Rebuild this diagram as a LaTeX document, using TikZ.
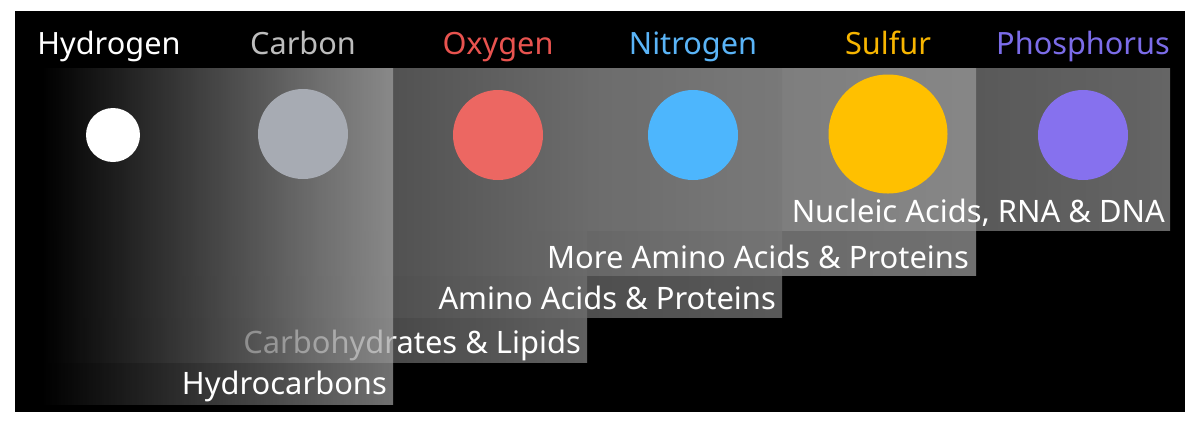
\documentclass[tikz,border=0pt]{standalone}
\usepackage{fontspec}
\setmainfont{Noto Sans}
\usepackage{tikz}
\usetikzlibrary{positioning}

\definecolor{hcol}{HTML}{FFFFFF}
\definecolor{ccol}{HTML}{A7ABB3}
\definecolor{clab}{HTML}{BDBDBD}
\definecolor{ocol}{HTML}{EC6762}
\definecolor{olab}{HTML}{E8534F}
\definecolor{ncol}{HTML}{4DB6FD}
\definecolor{nlab}{HTML}{5AB4F7}
\definecolor{scol}{HTML}{FFC000}
\definecolor{slab}{HTML}{F7B500}
\definecolor{pcol}{HTML}{8671EE}
\definecolor{plab}{HTML}{7B6CE8}

\begin{document}
\begin{tikzpicture}[
    x=1bp, y=-1bp,
    atom/.style={circle, inner sep=0pt},
    elem/.style={anchor=base, inner sep=0pt, font=\fontsize{30.8}{35}\selectfont},
    band/.style={left color=black, fill opacity=0.75},
    bandtext/.style={anchor=base east, inner sep=0pt, text=white, font=\fontsize{31}{36}\selectfont}
  ]
    \useasboundingbox (0,0) rectangle (1200,425);
    \fill[black] (15,11) rectangle (1185,412);

    % bands, back to front
    \shade[band, right color=black!47, middle color=black!64.5] (40,68) rectangle (1170,230);
    \shade[band, right color=black!41, middle color=black!48] (40,68) rectangle (976,275);
    \shade[band, right color=black!53, middle color=black!64.4] (40,68) rectangle (782,317);
    \shade[band, right color=black!58, middle color=black!72, fill opacity=0.9] (40,68) rectangle (587,362);

    \node[bandtext] (nuc) at (1165,222) {Nucleic Acids, RNA \& DNA};
    \node[bandtext] (mam) at (969,268) {More Amino Acids \& Proteins};
    \node[bandtext] (ami) at (776,309) {Amino Acids \& Proteins};
    \node[bandtext] (crb) at (581,353) {Carbohydrates \& Lipids};

    \shade[band, right color=black!37, middle color=black!68, fill opacity=0.7] (40,68) rectangle (393,404);
    \node[bandtext] (hyc) at (387,394) {Hydrocarbons};

    % elements
    \node[atom, fill=hcol, minimum size=54bp] (h) at (113,135) {};
    \node[atom, fill=ccol, minimum size=90bp] (c) at (303,134) {};
    \node[atom, fill=ocol, minimum size=90bp] (o) at (498,135) {};
    \node[atom, fill=ncol, minimum size=90bp] (n) at (693,135) {};
    \node[atom, fill=scol, minimum size=119bp] (s) at (888,134) {};
    \node[atom, fill=pcol, minimum size=90bp] (p) at (1083,135) {};

    \node[elem, text=hcol] (hl) at (109,54) {Hydrogen};
    \node[elem, text=clab] (cl) at (303,54) {Carbon};
    \node[elem, text=olab] (ol) at (498,54) {Oxygen};
    \node[elem, text=nlab] (nl) at (693,54) {Nitrogen};
    \node[elem, text=slab] (sl) at (888,54) {Sulfur};
    \node[elem, text=plab] (pl) at (1083,54) {Phosphorus};
  \end{tikzpicture}
\end{document}
